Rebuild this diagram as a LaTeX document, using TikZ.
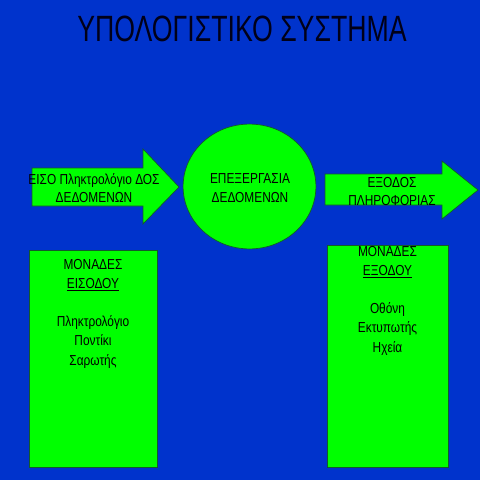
\documentclass[tikz,border=0pt]{standalone}
\usepackage{fontspec}
\setmainfont[FakeStretch=0.82]{Liberation Sans}
\newfontfamily\titlefont[FakeStretch=0.73]{Liberation Sans}
\usetikzlibrary{positioning,shapes.geometric}

\definecolor{bgblue}{RGB}{0,51,204}
\definecolor{brightgreen}{RGB}{0,255,0}
\definecolor{edgegreen}{RGB}{20,90,40}

\tikzstyle{greenfill} = [fill=brightgreen, draw=edgegreen, line width=0.5pt]
\tikzstyle{celltext} = [font=\fontsize{10.3}{13.2}\selectfont, text=black, align=center, inner sep=0pt]
\tikzstyle{unittext} = [celltext, font=\fontsize{10.3}{13.6}\selectfont, anchor=north]

\begin{document}
\begin{tikzpicture}[x=0.025cm, y=-0.025cm]
    % background and page frame
    \fill[bgblue] (0,0) rectangle (480,480);
    \useasboundingbox (0,0) rectangle (480,480);

    % title
    \node[font=\titlefont\fontsize{26}{30}\selectfont, text=black!90!blue, inner sep=0pt] (title) at (242,29) {ΥΠΟΛΟΓΙΣΤΙΚΟ ΣΥΣΤΗΜΑ};

    % input arrow
    \path[greenfill] (32,168) -- (143,168) -- (143,149) -- (179,187) -- (143,224) -- (143,206) -- (32,206) -- cycle;
    \node[celltext] (input) at (94,188) {ΕΙΣΟ Πληκτρολόγιο ΔΟΣ\\ΔΕΔΟΜΕΝΩΝ};

    % processing
    \node[greenfill, ellipse, minimum width=3.32cm, minimum height=3.12cm, inner sep=0pt] (cpu) at (249.5,186.5) {};
    \node[celltext] (cputext) at (250,188) {ΕΠΕΞΕΡΓΑΣΙΑ\\ΔΕΔΟΜΕΝΩΝ};

    % output arrow
    \path[greenfill] (325,174) -- (442,174) -- (442,161) -- (478,190) -- (442,219) -- (442,205) -- (325,205) -- cycle;
    \node[celltext] (output) at (392,191.5) {ΕΞΟΔΟΣ\\ΠΛΗΡΟΦΟΡΙΑΣ};

    % unit boxes
    \path[greenfill] (29,250) rectangle (157,467);
    \node[unittext] (inunits) at (93,259)
        {ΜΟΝΑΔΕΣ\\\underline{ΕΙΣΟΔΟΥ}\\[13.6pt]Πληκτρολόγιο\\Ποντίκι\\Σαρωτής};
    \path[greenfill] (327,245) rectangle (448,467);
    \node[unittext] (outunits) at (387.5,246)
        {ΜΟΝΑΔΕΣ\\\underline{ΕΞΟΔΟΥ}\\[13.6pt]Οθόνη\\Εκτυπωτής\\Ηχεία};
\end{tikzpicture}
\end{document}
